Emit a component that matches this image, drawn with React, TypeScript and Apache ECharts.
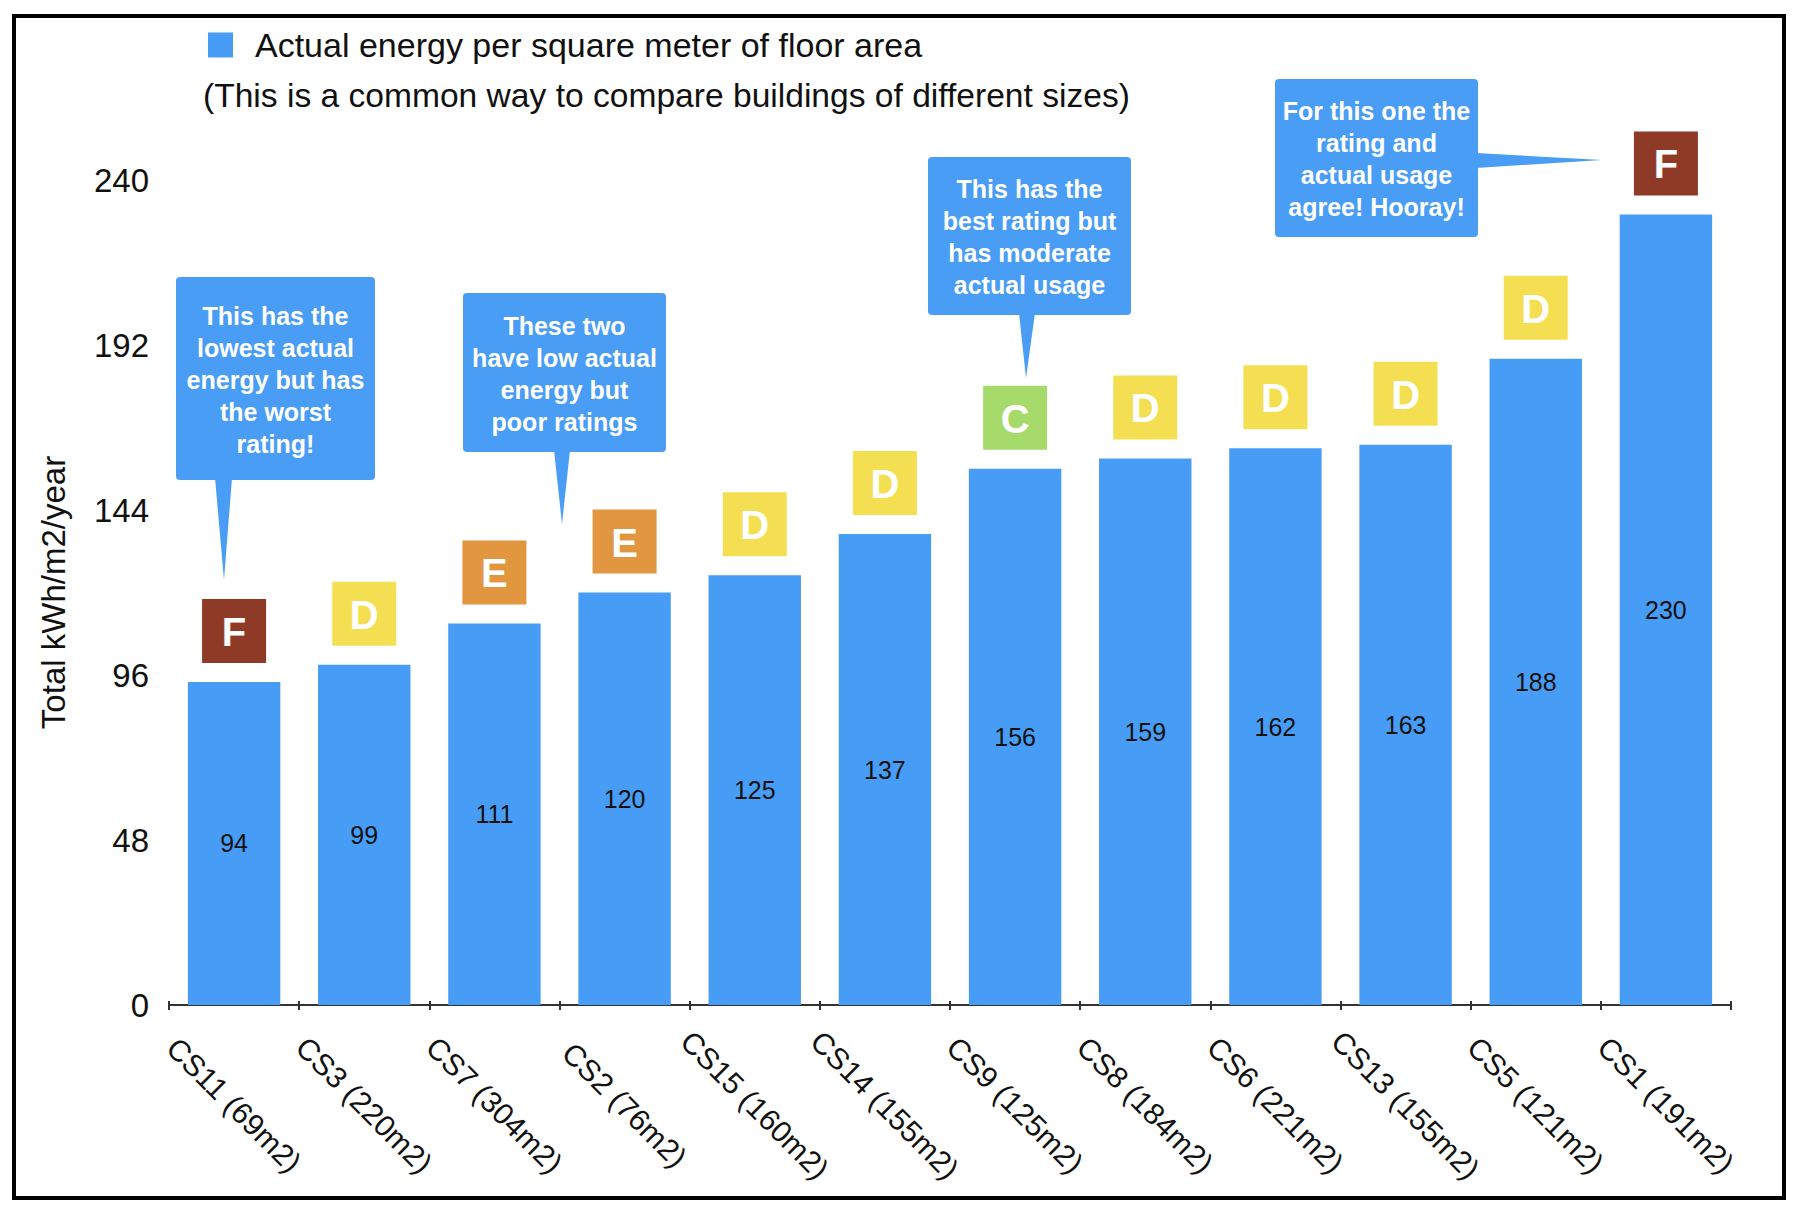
import { useEffect, useRef } from 'react'
import * as echarts from 'echarts'

const categories = [
  'CS11 (69m2)', 'CS3 (220m2)', 'CS7 (304m2)', 'CS2 (76m2)', 'CS15 (160m2)', 'CS14 (155m2)',
  'CS9 (125m2)', 'CS8 (184m2)', 'CS6 (221m2)', 'CS13 (155m2)', 'CS5 (121m2)', 'CS1 (191m2)'
]
const energy = [94, 99, 111, 120, 125, 137, 156, 159, 162, 163, 188, 230]
const ratings = ['F', 'D', 'E', 'E', 'D', 'D', 'C', 'D', 'D', 'D', 'D', 'F']
const yMax = 240
const yStep = 48

const seriesName = 'Actual energy per square meter of floor area'
const subtitle = '(This is a common way to compare buildings of different sizes)'

const callout1 = ['This has the', 'lowest actual', 'energy but has', 'the worst', 'rating!']
const callout2 = ['These two', 'have low actual', 'energy but', 'poor ratings']
const callout3 = ['This has the', 'best rating but', 'has moderate', 'actual usage']
const callout4 = ['For this one the', 'rating and', 'actual usage', 'agree! Hooray!']

const RATING_COLORS: Record<string, string> = {
  C: '#A6DB6B',
  D: '#F4DF52',
  E: '#E2963F',
  F: '#8E3A26'
}

const FONT = '"Liberation Sans", Arial, Helvetica, sans-serif'
const BLUE = '#479DF5'
const CALLOUT_BLUE = '#4A9DF4'

// callout bubble: box + pointer triangle + centred text
function callout(
  lines: string[],
  box: [number, number, number, number],
  pointer: number[][]
) {
  const [x, y, w, h] = box
  return [
    {
      type: 'polygon',
      shape: { points: pointer },
      style: { fill: CALLOUT_BLUE },
      z: 10
    },
    {
      type: 'rect',
      shape: { x, y, width: w, height: h, r: 4 },
      style: { fill: CALLOUT_BLUE },
      z: 10
    },
    {
      type: 'text',
      x: x + w / 2,
      y: y + h / 2 + 1,
      style: {
        text: lines.join('\n'),
        fill: '#fff',
        fontFamily: FONT,
        fontWeight: 'bold',
        fontSize: 25,
        lineHeight: 32,
        align: 'center',
        verticalAlign: 'middle'
      },
      z: 11
    }
  ]
}

export default function App() {
  const chartRef = useRef<HTMLDivElement>(null)

  useEffect(() => {
    if (!chartRef.current) return
    const chart = echarts.init(chartRef.current, undefined, { renderer: 'svg' })

    const gridBox = { left: 169, right: 69, top: 180, bottom: 222, containLabel: false }

    const option: any = {
      animation: false,
      backgroundColor: '#fff',
      textStyle: { fontFamily: FONT },
      legend: {
        data: [{ name: seriesName, icon: 'rect' }],
        left: 208,
        top: 28,
        padding: 0,
        itemWidth: 25,
        itemHeight: 25,
        selectedMode: false,
        textStyle: {
          fontSize: 34,
          color: '#111',
          fontFamily: FONT,
          padding: [0, 0, 0, 17]
        }
      },
      grid: [gridBox, { ...gridBox }],
      xAxis: [
        {
          type: 'category',
          gridIndex: 0,
          data: categories,
          axisLine: { lineStyle: { color: '#333', width: 2 } },
          axisTick: { show: true, length: 5, lineStyle: { color: '#333', width: 2 } },
          axisLabel: {
            interval: 0,
            rotate: -45,
            align: 'center',
            verticalAlign: 'middle',
            margin: 100,
            fontSize: 30,
            color: '#111',
            fontFamily: FONT
          }
        },
        {
          // second copy of the axis only for the upward half of the ticks
          type: 'category',
          gridIndex: 1,
          data: categories,
          axisLine: { show: false },
          axisLabel: { show: false },
          axisTick: { show: true, inside: true, length: 4, lineStyle: { color: '#333', width: 2 } }
        }
      ],
      yAxis: [
        {
          type: 'value',
          gridIndex: 0,
          min: 0,
          max: yMax,
          interval: yStep,
          name: 'Total kWh/m2/year',
          nameLocation: 'middle',
          nameGap: 99,
          nameTextStyle: { fontSize: 33, color: '#111', fontFamily: FONT },
          axisLine: { show: false },
          axisTick: { show: false },
          splitLine: { show: false },
          axisLabel: { fontSize: 33, color: '#111', margin: 20, fontFamily: FONT }
        },
        {
          type: 'value',
          gridIndex: 1,
          min: 0,
          max: yMax,
          interval: yStep,
          show: false
        }
      ],
      series: [
        {
          name: seriesName,
          type: 'bar',
          data: energy,
          barCategoryGap: '29%',
          itemStyle: { color: BLUE },
          label: {
            show: true,
            position: 'inside',
            fontSize: 25,
            color: '#111',
            fontFamily: FONT
          }
        },
        {
          name: 'rating',
          type: 'custom',
          clip: false,
          z: 5,
          data: energy.map((v, i) => [i, v]),
          renderItem: (params: any, api: any) => {
            const pt = api.coord([api.value(0), api.value(1)])
            const size = 64
            const gap = 19
            const letter = ratings[params.dataIndex]
            return {
              type: 'group',
              children: [
                {
                  type: 'rect',
                  shape: { x: pt[0] - size / 2, y: pt[1] - gap - size, width: size, height: size },
                  style: { fill: RATING_COLORS[letter] }
                },
                {
                  type: 'text',
                  style: {
                    text: letter,
                    x: pt[0],
                    y: pt[1] - gap - size / 2 + 1,
                    fill: '#fff',
                    fontFamily: FONT,
                    fontWeight: 'bold',
                    fontSize: 40,
                    align: 'center',
                    verticalAlign: 'middle'
                  }
                }
              ]
            }
          }
        }
      ],
      graphic: [
        {
          type: 'rect',
          shape: { x: 14, y: 16, width: 1770, height: 1182 },
          style: { fill: 'none', stroke: '#000', lineWidth: 4 },
          z: 20
        },
        {
          type: 'text',
          left: 203,
          top: 78,
          style: {
            text: subtitle,
            fill: '#111',
            fontFamily: FONT,
            fontSize: 33.6
          }
        },
        ...callout(callout1, [176, 277, 199, 203], [[215, 478], [232, 478], [224, 580]]),
        ...callout(callout2, [463, 293, 203, 159], [[554, 450], [570, 450], [562, 524]]),
        ...callout(callout3, [928, 157, 203, 158], [[1019, 313], [1035, 313], [1026, 378]]),
        ...callout(callout4, [1275, 79, 203, 158], [[1476, 153], [1476, 168], [1602, 160]])
      ]
    }

    chart.setOption(option)

    return () => {
      chart.dispose()
    }
  }, [])

  return (
    <div
      ref={chartRef}
      style={{ position: 'absolute', left: 0, top: 0, width: 1800, height: 1227 }}
    />
  )
}
